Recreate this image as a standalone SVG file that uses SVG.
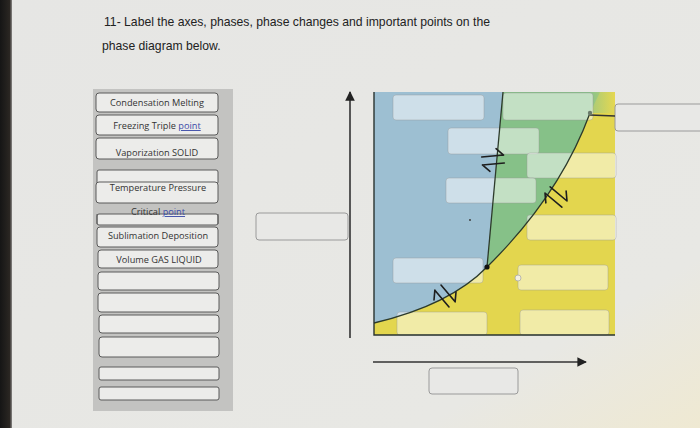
<svg xmlns="http://www.w3.org/2000/svg" width="700" height="428" viewBox="0 0 700 428">
<defs>
<style>
.title{font-family:"Liberation Sans",Arial,sans-serif;font-size:12.2px;fill:#222}
.lbl{font-family:"Open Sans","Liberation Sans",sans-serif;font-size:9.2px;fill:#333;text-anchor:middle}
.pt{fill:#3b4aa8;text-decoration:underline}
.pbox{fill:#ececea;stroke:#5a5a5a;stroke-width:1}
.dbox{fill:#ffffff;fill-opacity:0.5;stroke:#999;stroke-opacity:0.5;stroke-width:0.8}
.ebox{fill:#e8e8e6;stroke:#9a9a9a;stroke-width:1}
.axis{stroke:#333;stroke-width:1.6;fill:none}
.arr{stroke:#1e1e1e;stroke-width:1.6;fill:none;stroke-linecap:round;stroke-linejoin:round}
</style>
<marker id="ah" viewBox="0 0 10 10" refX="9" refY="5" markerWidth="6" markerHeight="6" orient="auto">
<path d="M0,0 L10,5 L0,10 Z" fill="#222"/>
</marker>
<linearGradient id="bg" x1="0" y1="0" x2="1" y2="1">
<stop offset="0" stop-color="#e6e6e4"/>
<stop offset="0.8" stop-color="#e8e8e4"/>
<stop offset="1" stop-color="#efe9d2"/>
</linearGradient>
<linearGradient id="corner" x1="0" y1="0" x2="1" y2="0">
<stop offset="0" stop-color="#8cc58c"/>
<stop offset="1" stop-color="#e6d852"/>
</linearGradient>
<linearGradient id="bezel" x1="0" y1="0" x2="1" y2="0">
<stop offset="0" stop-color="#151515"/>
<stop offset="0.8" stop-color="#2a2622"/>
<stop offset="1" stop-color="#8a8886"/>
</linearGradient>
<g id="dbl">
<path class="arr" d="M-11,-4 L11,-4 M4,-11 L11,-4"/>
<path class="arr" d="M11,4 L-11,4 M-4,11 L-11,4"/>
</g>
</defs>
<rect width="700" height="428" fill="url(#bg)"/>
<rect x="0" y="0" width="12" height="428" fill="url(#bezel)"/>

<g id="title">
<text class="title" x="104" y="26">11- Label the axes, phases, phase changes and important points on the</text>
<text class="title" x="102" y="50">phase diagram below.</text>
</g>

<g id="panel">
<rect x="93" y="89" width="140" height="322" fill="#c3c3c1"/>
<g id="b1"><rect class="pbox" x="96" y="93" width="122" height="19" rx="3"/><text class="lbl" x="157" y="106">Condensation Melting</text></g>
<g id="b2"><rect class="pbox" x="96" y="115" width="122" height="20" rx="3"/><text class="lbl" x="157" y="129">Freezing Triple <tspan class="pt">point</tspan></text></g>
<g id="b3"><rect class="pbox" x="96" y="138" width="122" height="21" rx="3"/><text class="lbl" x="157" y="156">Vaporization  SOLID</text></g>
<g id="b4"><rect class="pbox" x="97" y="170" width="121" height="14" rx="2"/></g>
<g id="b5"><rect class="pbox" x="96" y="182" width="122" height="21" rx="3"/><text class="lbl" x="158" y="191">Temperature Pressure</text></g>
<g id="b6"><rect class="pbox" x="97" y="214" width="121" height="11" rx="2" stroke="none"/><path d="M97,214 V224 M218,214 V224" stroke="#5a5a5a"/><text class="lbl" x="158" y="215">Critical <tspan class="pt">point</tspan></text></g>
<g id="b7"><rect class="pbox" x="97" y="227" width="121" height="20" rx="3"/><text class="lbl" x="158" y="239">Sublimation Deposition</text></g>
<g id="b8"><rect class="pbox" x="98" y="250" width="120" height="18" rx="3"/><text class="lbl" x="159" y="263">Volume GAS LIQUID</text></g>
<g id="b9"><rect class="pbox" x="98" y="272" width="121" height="18" rx="3"/></g>
<g id="b10"><rect class="pbox" x="98" y="293" width="121" height="19" rx="3"/></g>
<g id="b11"><rect class="pbox" x="99" y="315" width="120" height="18" rx="3"/></g>
<g id="b12"><rect class="pbox" x="99" y="337" width="120" height="20" rx="3"/></g>
<g id="b13"><rect class="pbox" x="99" y="367" width="120" height="13" rx="2"/></g>
<g id="b14"><rect class="pbox" x="99" y="387" width="120" height="13" rx="2"/></g>
</g>

<g id="regions">
<rect x="374" y="92" width="241" height="243" fill="#e3d64e"/>
<path d="M374,92 L503,92 L487,267 Q450,305 374,323 Z" fill="#9dbfd2"/>
<path d="M503,92 L600,92 L590,113 Q560,195 487,267 Z" fill="#86c188"/>
<path d="M590,92 L615,92 L615,113 L590,113 Z" fill="url(#corner)" opacity="0.7"/>
</g>

<g id="dropzones">
<rect class="dbox" x="393" y="95" width="91" height="25" rx="3"/>
<rect class="dbox" x="503" y="93" width="90" height="27" rx="3"/>
<rect class="dbox" x="448" y="128" width="91" height="26" rx="3"/>
<rect class="dbox" x="527" y="153" width="89" height="25" rx="3"/>
<rect class="dbox" x="446" y="178" width="90" height="25" rx="3"/>
<rect class="dbox" x="527" y="215" width="89" height="25" rx="3"/>
<rect class="dbox" x="393" y="258" width="90" height="25" rx="3"/>
<rect class="dbox" x="518" y="265" width="90" height="25" rx="3"/>
<rect class="dbox" x="397" y="312" width="90" height="23" rx="3"/>
<rect class="dbox" x="520" y="310" width="89" height="25" rx="3"/>
<circle cx="518" cy="278" r="3" fill="#f4f1e0" stroke="#aaa" stroke-width="0.8"/>
<rect class="ebox" x="615" y="104" width="90" height="27" rx="3"/>
<rect class="ebox" x="256" y="213" width="92" height="27" rx="3"/>
<rect class="ebox" x="429" y="368" width="89" height="26" rx="3"/>
</g>

<g id="connectors">
<path d="M374,323 Q450,305 487,267 Q560,195 590,113" stroke="#2c3a2c" stroke-width="1.3" fill="none"/>
<path d="M487,267 L503,92" stroke="#2c3a2c" stroke-width="1.3" fill="none"/>
<path d="M374,92 V335 H615" stroke="#2a3430" stroke-width="1.4" fill="none"/>
<path d="M590,115 L615,116" stroke="#333" stroke-width="1.4"/>
<line class="axis" x1="350" y1="338" x2="350" y2="92" marker-end="url(#ah)"/>
<line class="axis" x1="373" y1="362" x2="586" y2="362" marker-end="url(#ah)"/>
<use href="#dbl" transform="translate(493,160) rotate(-5)"/>
<use href="#dbl" transform="translate(556,197) rotate(40)"/>
<use href="#dbl" transform="translate(445,296) rotate(50)"/>
</g>

<g id="points">
<circle cx="487" cy="267" r="2.6" fill="#111"/>
<circle cx="590" cy="113" r="2.2" fill="#6a7a6a"/>
<circle cx="470" cy="220" r="0.9" fill="#333"/>
</g>
</svg>
